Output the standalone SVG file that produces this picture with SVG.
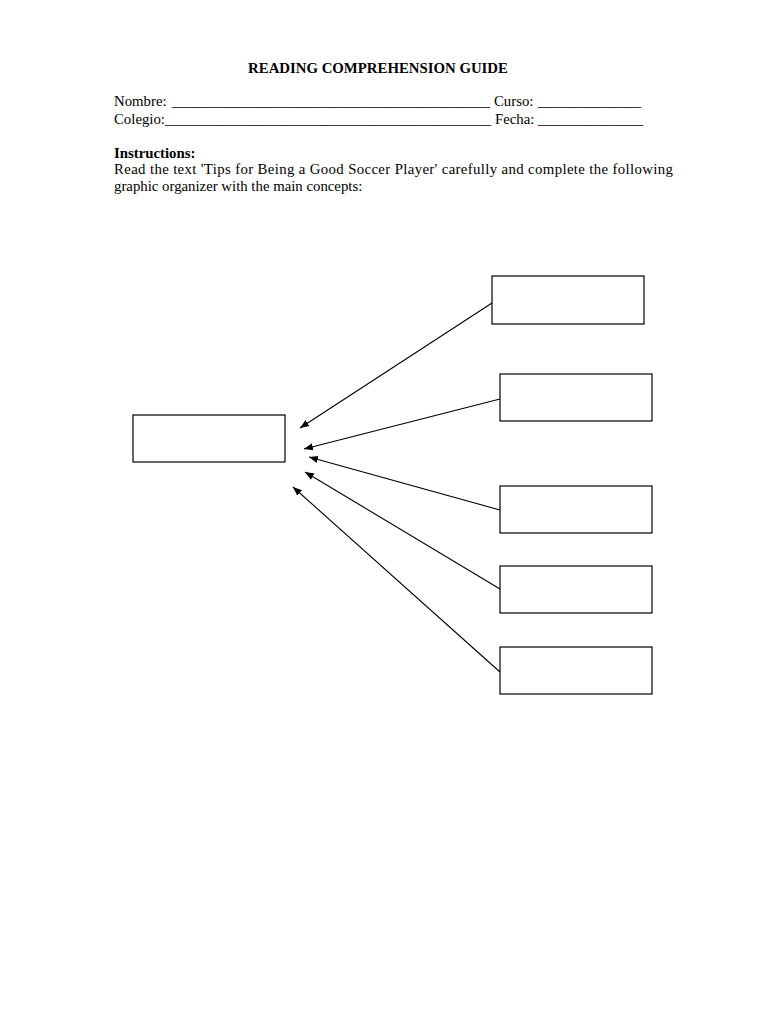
<svg xmlns="http://www.w3.org/2000/svg" width="768" height="1024" viewBox="0 0 768 1024">
<style>
text{font-family:"Liberation Serif","Times New Roman",serif;font-size:14.8px;fill:#000}
.b{font-weight:bold}
.box{fill:#fff;stroke:#000;stroke-width:1.2}
line{stroke:#000;stroke-width:1.1}
</style>
<defs><marker id="a" viewBox="0 0 10 10" refX="10" refY="5" markerWidth="9" markerHeight="9" markerUnits="userSpaceOnUse" orient="auto"><path d="M0,1 L10,5 L0,9 z" fill="#000"/></marker></defs>
<rect width="768" height="1024" fill="#fff"/>
<text class="b" x="378" y="73" text-anchor="middle">READING COMPREHENSION GUIDE</text>
<text x="114" y="106">Nombre:</text>
<text x="172" y="106" textLength="318" lengthAdjust="spacingAndGlyphs">____________________________________________</text>
<text x="494" y="106">Curso:</text>
<text x="538" y="106" textLength="103" lengthAdjust="spacingAndGlyphs">______________</text>
<text x="114" y="124">Colegio:</text>
<text x="165" y="124" textLength="326" lengthAdjust="spacingAndGlyphs">_____________________________________________</text>
<text x="495" y="124">Fecha:</text>
<text x="538" y="124" textLength="105" lengthAdjust="spacingAndGlyphs">______________</text>
<text class="b" x="114" y="158">Instructions:</text>
<text x="114" y="174" textLength="559" lengthAdjust="spacing">Read the text 'Tips for Being a Good Soccer Player' carefully and complete the following</text>
<text x="114" y="191">graphic organizer with the main concepts:</text>
<g id="center"><rect class="box" x="133" y="415" width="152" height="47"/></g>
<g id="n1"><rect class="box" x="492" y="276" width="152" height="48"/></g>
<g id="n2"><rect class="box" x="500" y="374" width="152" height="47"/></g>
<g id="n3"><rect class="box" x="500" y="486" width="152" height="47"/></g>
<g id="n4"><rect class="box" x="500" y="566" width="152" height="47"/></g>
<g id="n5"><rect class="box" x="500" y="647" width="152" height="47"/></g>
<g id="connectors">
<line x1="492" y1="303" x2="300" y2="428" marker-end="url(#a)"/>
<line x1="500" y1="399" x2="304" y2="449" marker-end="url(#a)"/>
<line x1="500" y1="510" x2="309" y2="457" marker-end="url(#a)"/>
<line x1="500" y1="589" x2="305" y2="472" marker-end="url(#a)"/>
<line x1="500" y1="672" x2="293" y2="487" marker-end="url(#a)"/>
</g>
</svg>
